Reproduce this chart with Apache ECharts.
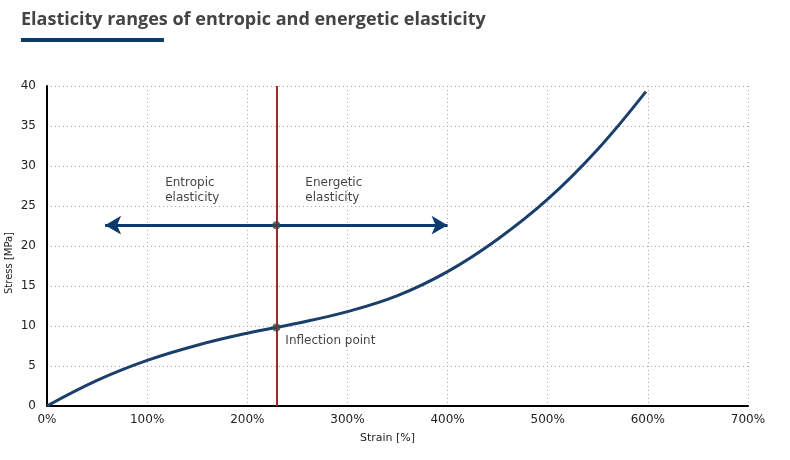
<!DOCTYPE html>
<html>
<head>
<meta charset="utf-8">
<script src="https://cdn.jsdelivr.net/npm/echarts@6/dist/echarts.min.js"></script>
<style>
html,body{margin:0;padding:0;background:#fff;}
#chart{width:790px;height:460px;}
</style>
</head>
<body>
<div id="chart"></div>
<script>
// Data
const curveStrain = [0, 50, 100, 150, 200, 250, 300, 350, 400, 450, 500, 550, 598];
const curveStress = [0, 3.2, 5.7, 7.6, 9.1, 10.35, 11.8, 13.8, 16.8, 20.85, 25.85, 32.1, 39.3];
const inflectionStrain = 229;
const inflectionStress = 9.8;
const arrowStress = 22.6;
const arrowStart = 58;
const arrowEnd = 400;
const xTicks = [0, 100, 200, 300, 400, 500, 600, 700];
const yTicks = [0, 5, 10, 15, 20, 25, 30, 35, 40];
const annotationTexts = ['Entropic\nelasticity', 'Energetic\nelasticity', 'Inflection point'];
const annotationPos = [[118, 27], [258, 27], [238, 8.1]];

const FONT = "'DejaVu Sans', Verdana, sans-serif";
const chart = echarts.init(document.getElementById('chart'));
const curveData = curveStrain.map((s, i) => [s, curveStress[i]]);

chart.setOption({
  animation: false,
  backgroundColor: '#fff',
  title: {
    text: 'Elasticity ranges of entropic and energetic elasticity',
    left: 16, top: 6,
    textStyle: { fontFamily: "'Open Sans'", fontWeight: 'bold', fontSize: 18, color: '#444' }
  },
  graphic: [
    { type: 'rect', shape: { x: 21, y: 38, width: 143, height: 4 }, style: { fill: '#0d3a6b' } },
    {
      type: 'text', x: 9, y: 263, rotation: Math.PI / 2,
      style: { text: 'Stress [MPa]', font: "10px 'DejaVu Sans', Verdana, sans-serif", fill: '#222', align: 'center', verticalAlign: 'middle' }
    }
  ],
  grid: { left: 47, right: 42, top: 86, bottom: 54, containLabel: false, outerBoundsMode: 'none' },
  xAxis: {
    type: 'value', min: xTicks[0], max: xTicks[xTicks.length - 1], interval: 100,
    name: 'Strain [%]', nameLocation: 'middle', nameGap: 27,
    nameTextStyle: { fontFamily: FONT, fontSize: 11, color: '#222', padding: [0, 20, 0, 0] },
    axisLine: { lineStyle: { color: '#000', width: 2 } },
    axisTick: { show: false },
    axisLabel: { formatter: '{value}%', fontFamily: FONT, fontSize: 12, color: '#222', margin: 8 },
    splitLine: { show: true, lineStyle: { color: '#aaa', width: 1, type: [1, 3] } }
  },
  yAxis: {
    type: 'value', min: yTicks[0], max: yTicks[yTicks.length - 1], interval: 5,
    axisLine: { show: true, lineStyle: { color: '#000', width: 2 } },
    axisTick: { show: false },
    axisLabel: { fontFamily: FONT, fontSize: 12, color: '#222', margin: 11 },
    splitLine: { show: true, lineStyle: { color: '#aaa', width: 1, type: [1, 3] } }
  },
  series: [
    {
      type: 'line', data: curveData, smooth: 0.4, showSymbol: false, symbol: 'none',
      lineStyle: { color: '#1b3f6b', width: 3 }, z: 3,
      markLine: {
        silent: true, symbol: ['none', 'none'], label: { show: false },
        lineStyle: { color: '#a3262d', width: 2, type: 'solid' },
        data: [[{ coord: [inflectionStrain, yTicks[0]] }, { coord: [inflectionStrain, yTicks[yTicks.length - 1]] }]]
      }
    },
    {
      type: 'line', data: [], z: 4,
      markLine: {
        silent: true, symbol: ['arrow', 'arrow'], symbolSize: [14, 16], label: { show: false },
        lineStyle: { color: '#0b3a6e', width: 3, type: 'solid' },
        data: [[{ coord: [arrowStart, arrowStress] }, { coord: [arrowEnd, arrowStress] }]]
      }
    },
    {
      type: 'scatter', z: 6, symbolSize: 8,
      itemStyle: { color: '#444' },
      data: [[inflectionStrain, inflectionStress], [inflectionStrain, arrowStress]]
    },
    {
      type: 'scatter', z: 7, symbolSize: 0,
      data: annotationPos.map((p, i) => ({ value: p, name: annotationTexts[i] })),
      label: {
        show: true, position: 'right', distance: 0, formatter: p => p.name,
        fontFamily: FONT, fontSize: 12, color: '#111', lineHeight: 15, align: 'left'
      }
    }
  ]
});
</script>
</body>
</html>
